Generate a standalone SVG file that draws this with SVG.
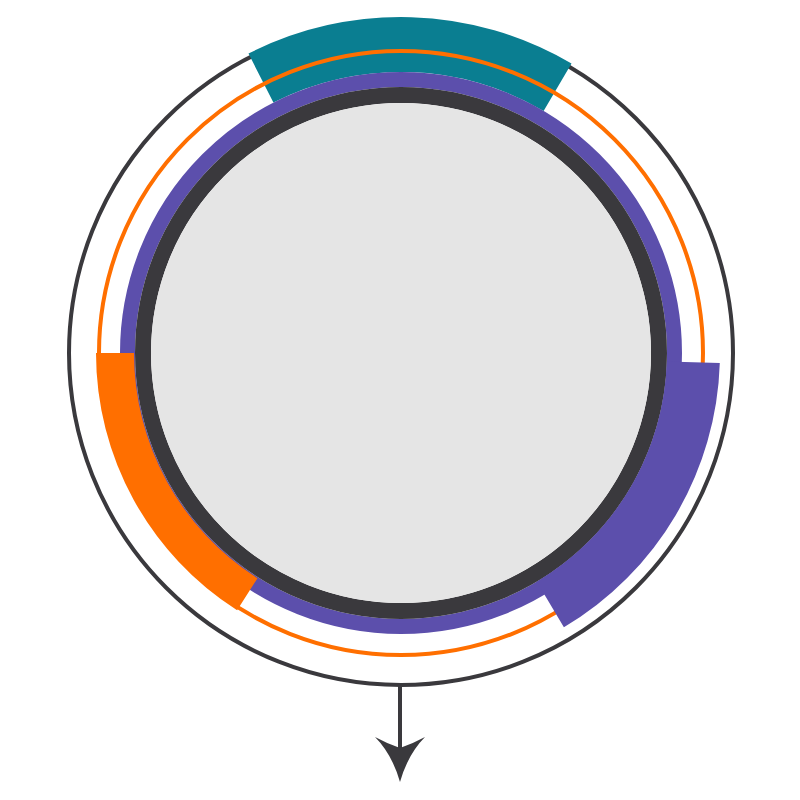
<svg xmlns="http://www.w3.org/2000/svg" width="800" height="800" viewBox="0 0 800 800">
  <style>
    .dark { fill: none; stroke: #3a393d; }
    .thinorange { fill: none; stroke: #ff6f00; stroke-width: 4; }
  </style>
  <rect width="800" height="800" fill="#ffffff"/>
  <g id="outer-ring">
    <circle class="dark" cx="401" cy="353" r="332" stroke-width="4"/>
  </g>
  <g id="teal-segment">
    <path d="M 248.5 53.6 A 336 336 0 0 1 571.5 63.5 L 543.6 110.9 A 281 281 0 0 0 273.4 102.6 Z" fill="#0a7e91"/>
  </g>
  <g id="orange-ring">
    <circle class="thinorange" cx="401" cy="353" r="302"/>
  </g>
  <g id="purple-ring">
    <circle cx="401" cy="353" r="273.5" fill="none" stroke="#5c4fac" stroke-width="15"/>
  </g>
  <g id="dark-ring">
    <circle class="dark" cx="401" cy="353" r="258" stroke-width="16"/>
  </g>
  <g id="center">
    <circle cx="401" cy="353" r="250" fill="#e5e5e5"/>
  </g>
  <g id="orange-segment">
    <path d="M 96 353 L 134 353 A 267 267 0 0 0 257.5 578.2 L 237.1 610.2 A 305 305 0 0 1 96 353 Z" fill="#ff6f00"/>
  </g>
  <g id="purple-segment">
    <path d="M 666.9 361.4 L 719.8 363 A 319 319 0 0 1 563.9 627.3 L 536.8 581.7 A 266 266 0 0 0 666.9 361.4 Z" fill="#5c4fac"/>
  </g>
  <g id="connectors">
    <line x1="400" y1="684" x2="400" y2="748" stroke="#3a393d" stroke-width="4"/>
    <path d="M 375 737 Q 392 754 400 782 Q 408 754 425 737 Q 412 744 400 748 Q 388 744 375 737 Z" fill="#3a393d"/>
  </g>
</svg>
